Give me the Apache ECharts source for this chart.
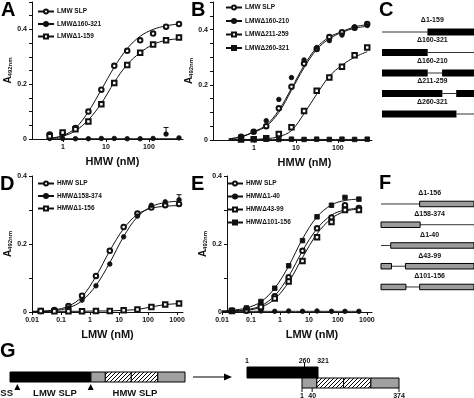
<!DOCTYPE html>
<html>
<head>
<meta charset="utf-8">
<script src="https://cdn.jsdelivr.net/npm/echarts@6/dist/echarts.min.js"></script>
<style>
  html, body { margin: 0; padding: 0; background: #fff; }
  #chart { width: 474px; height: 398px; }
</style>
</head>
<body>
<div id="chart"></div>
<script>
// ---- panel A and B : HMW titration (nM), 2-fold series
const concAB = [0.49, 0.98, 1.95, 3.9, 7.8, 15.6, 31.2, 62.5, 125, 250, 500];
const aNames = ['LMW SLP', 'LMWΔ160-321', 'LMWΔ1-159'];
const aPoints = [
  [0.016, 0.02, 0.04, 0.10, 0.18, 0.267, 0.322, 0.36, 0.385, 0.41, 0.42],
  [0.002, 0.002, 0.001, 0.001, 0.002, 0.002, 0.001, 0.001, 0.002, 0.018, 0.004],
  [0.01, 0.024, 0.036, 0.064, 0.127, 0.204, 0.27, 0.315, 0.345, 0.36, 0.37]
];
const aCurves = [
  [0.003, 0.012, 0.04, 0.1, 0.18, 0.262, 0.33, 0.375, 0.4, 0.413, 0.42],
  [0.001, 0.001, 0.001, 0.001, 0.001, 0.001, 0.001, 0.001, 0.001, 0.001, 0.001],
  [0.002, 0.01, 0.03, 0.07, 0.13, 0.207, 0.272, 0.315, 0.345, 0.36, 0.366]
];
const aErrors = [[250, 0.018, 0.042]];

const curveConcB = [0.25, 0.49, 0.98, 1.95, 3.9, 7.8, 15.6, 31.2, 62.5, 125, 250, 500];
const bNames = ['LMW SLP', 'LMWΔ160-210', 'LMWΔ211-259', 'LMWΔ260-321'];
const bPoints = [
  [0.012, 0.03, 0.05, 0.115, 0.193, 0.277, 0.33, 0.373, 0.39, 0.407, 0.42],
  [0.01, 0.03, 0.07, 0.147, 0.226, 0.29, 0.335, 0.36, 0.38, 0.41, 0.415],
  [0.002, 0.003, 0.006, 0.022, 0.046, 0.105, 0.178, 0.226, 0.265, 0.307, 0.335],
  [0.003, 0.004, 0.003, 0.002, 0.003, 0.002, 0.003, 0.002, 0.003, 0.002, 0.003]
];
const bCurves = [
  [0.004, 0.012, 0.03, 0.054, 0.108, 0.187, 0.27, 0.335, 0.373, 0.393, 0.41, 0.418],
  [0.004, 0.011, 0.028, 0.05, 0.1, 0.18, 0.262, 0.328, 0.367, 0.39, 0.405, 0.412],
  [0, 0.001, 0.002, 0.005, 0.012, 0.034, 0.096, 0.166, 0.231, 0.271, 0.3, 0.32],
  [0.002, 0.002, 0.002, 0.002, 0.002, 0.002, 0.002, 0.002, 0.002, 0.002, 0.002, 0.002]
];

// ---- panel D and E : LMW titration (nM), 3-fold series
const concD = [0.02, 0.059, 0.18, 0.53, 1.6, 4.8, 14.4, 43, 130, 390, 1170];
const curveConcD = [0.01, 0.02, 0.059, 0.18, 0.53, 1.6, 4.8, 14.4, 43, 130, 390, 1170];
const dNames = ['HMW SLP', 'HMWΔ158-374', 'HMWΔ1-156'];
const dPoints = [
  [0.003, 0.006, 0.018, 0.048, 0.106, 0.18, 0.25, 0.29, 0.307, 0.314, 0.318],
  [0.002, 0.004, 0.012, 0.035, 0.077, 0.141, 0.221, 0.282, 0.314, 0.324, 0.33],
  [0.003, 0.002, 0.002, 0.002, 0.003, 0.003, 0.005, 0.007, 0.015, 0.022, 0.025]
];
const dCurves = [
  [0.001, 0.002, 0.006, 0.017, 0.045, 0.105, 0.18, 0.245, 0.287, 0.305, 0.311, 0.313],
  [0.001, 0.001, 0.004, 0.012, 0.033, 0.078, 0.145, 0.222, 0.28, 0.31, 0.322, 0.326],
  [0.002, 0.003, 0.002, 0.002, 0.002, 0.003, 0.003, 0.005, 0.007, 0.015, 0.022, 0.025]
];
const dErrors = [[1170, 0.33, 0.345]];

const concE = [0.022, 0.07, 0.22, 0.66, 2, 6, 19, 60, 175, 530];
const curveConcE = [0.01, 0.022, 0.07, 0.22, 0.66, 2, 6, 19, 60, 175, 530];
const eNames = ['HMW SLP', 'HMWΔ1-40', 'HMWΔ43-99', 'HMWΔ101-156'];
const ePoints = [
  [0.004, 0.006, 0.018, 0.046, 0.102, 0.18, 0.246, 0.278, 0.314, 0.306],
  [0.003, 0.002, 0.003, 0.002, 0.003, 0.002, 0.003, 0.002, 0.002, 0.002],
  [0.003, 0.005, 0.015, 0.04, 0.09, 0.15, 0.22, 0.265, 0.3, 0.3],
  [0.005, 0.012, 0.031, 0.07, 0.136, 0.21, 0.28, 0.314, 0.337, 0.332]
];
const eCurves = [
  [0.002, 0.003, 0.007, 0.018, 0.048, 0.105, 0.18, 0.245, 0.285, 0.3, 0.305],
  [0.002, 0.002, 0.002, 0.002, 0.002, 0.002, 0.002, 0.002, 0.002, 0.002, 0.002],
  [0.001, 0.002, 0.005, 0.014, 0.038, 0.088, 0.16, 0.23, 0.275, 0.296, 0.303],
  [0.003, 0.005, 0.012, 0.03, 0.07, 0.135, 0.215, 0.28, 0.315, 0.328, 0.332]
];

// ---- constructs (C, F) and processing scheme (G)
const lmwLength = 321;
const hmwLength = 374;
const cNames = ['Δ1-159', 'Δ160-321', 'Δ160-210', 'Δ211-259', 'Δ260-321'];
const cDeleted = [[1, 159], [160, 321], [160, 210], [211, 259], [260, 321]];
const fNames = ['Δ1-156', 'Δ158-374', 'Δ1-40', 'Δ43-99', 'Δ101-156'];
const fDeleted = [[1, 156], [158, 374], [1, 40], [43, 99], [101, 156]];
const hmwDomains = [[1, 58, 'plain'], [58, 161, 'hatch'], [161, 266, 'hatch'], [266, 374, 'plain']];
const cleavageSites = [30, 321];
const lmwMarks = [1, 260, 321];
const hmwMarks = [1, 40, 374];

const FONT = '"Liberation Sans", Arial, sans-serif';
const INK = '#111';
const GRAY = '#a0a0a0';

const hatchCanvas = document.createElement('canvas');
hatchCanvas.width = 4; hatchCanvas.height = 4;
(function () {
  const g = hatchCanvas.getContext('2d');
  g.fillStyle = '#fff'; g.fillRect(0, 0, 4, 4);
  g.strokeStyle = '#000'; g.lineWidth = 1;
  g.beginPath();
  g.moveTo(0, 4); g.lineTo(4, 0);
  g.moveTo(-1, 1); g.lineTo(1, -1);
  g.moveTo(3, 5); g.lineTo(5, 3);
  g.stroke();
})();
const HATCH = { image: hatchCanvas, repeat: 'repeat' };

const pairs = (xs, ys) => xs.map((x, i) => [x, ys[i]]);
const logLabel = v => (v >= 1 ? String(Math.round(v)) : String(+v.toPrecision(1)));

function dataXAxis(gi, min, max, ticks, name, shift) {
  return {
    gridIndex: gi, type: 'log', logBase: 10, min: min, max: max,
    name: name, nameLocation: 'middle', nameGap: 17,
    nameTextStyle: { fontFamily: FONT, fontWeight: 'bold', fontSize: 11, color: INK, padding: [0, 0, 0, shift] },
    axisLine: { lineStyle: { color: INK, width: 1 } },
    axisTick: { length: 3, lineStyle: { color: INK }, customValues: ticks },
    axisLabel: { customValues: ticks, formatter: logLabel, fontFamily: FONT, fontWeight: 'bold', fontSize: 7, color: INK, margin: 5 },
    splitLine: { show: false }, minorTick: { show: false }
  };
}

function dataYAxis(gi, max, step, offset) {
  return {
    gridIndex: gi, type: 'value', min: 0, max: max, interval: step, offset: offset,
    name: '{a|A}{b|492nm}', nameLocation: 'middle', nameGap: 16, nameRotate: 90,
    nameTextStyle: { rich: {
      a: { fontFamily: FONT, fontWeight: 'bold', fontSize: 10, color: INK },
      b: { fontFamily: FONT, fontWeight: 'bold', fontSize: 6, color: INK, padding: [5, 0, 0, 0] }
    } },
    axisLine: { show: true, lineStyle: { color: INK, width: 1 } },
    axisTick: { show: true, length: 3, lineStyle: { color: INK } },
    axisLabel: {
      fontFamily: FONT, fontWeight: 'bold', fontSize: 7, color: INK, margin: 5,
      formatter: v => {
        const t = Math.round(v * 100);
        if (t % 20 !== 0) return '';
        return t === 0 ? '0' : (t / 100).toFixed(1);
      }
    },
    splitLine: { show: false }
  };
}

function hiddenAxis(gi, min, max, inverse) {
  return { gridIndex: gi, type: 'value', min: min, max: max, inverse: !!inverse, show: false };
}

function panelSeries(gi, names, symbols, conc, points, curveConc, curves, straight) {
  const out = [];
  names.forEach((n, k) => {
    out.push({
      type: 'line', name: n, xAxisIndex: gi, yAxisIndex: gi,
      data: pairs(curveConc, curves[k]),
      smooth: straight && straight[k] ? false : 0.35,
      showSymbol: false, symbol: symbols[k], symbolSize: 4.5,
      lineStyle: { color: INK, width: 1 }, itemStyle: { color: INK, borderColor: INK, borderWidth: 1 },
      silent: true, z: 2
    });
    out.push({
      type: 'scatter', name: 'pts' + gi + '_' + k, xAxisIndex: gi, yAxisIndex: gi,
      data: pairs(conc, points[k]),
      symbol: symbols[k], symbolSize: 4.5,
      itemStyle: { color: INK, borderColor: INK, borderWidth: 0.9, opacity: 1 },
      z: 3
    });
  });
  return out;
}

function errorSeries(gi, rows) {
  return {
    type: 'custom', xAxisIndex: gi, yAxisIndex: gi, data: rows, z: 4, silent: true,
    renderItem: (params, api) => {
      const base = api.coord([api.value(0), api.value(1)]);
      const top = api.coord([api.value(0), api.value(2)]);
      return { type: 'group', children: [
        { type: 'line', shape: { x1: base[0], y1: base[1], x2: top[0], y2: top[1] }, style: { stroke: INK, lineWidth: 1 } },
        { type: 'line', shape: { x1: top[0] - 2.5, y1: top[1], x2: top[0] + 2.5, y2: top[1] }, style: { stroke: INK, lineWidth: 1 } }
      ] };
    }
  };
}

function constructRows(deleted, length) {
  const rows = [];
  deleted.forEach(([a, b], i) => {
    if (a > 1) rows.push([1, a, i, 1]);
    rows.push([a, b, i, 0]);
    if (b < length) rows.push([b, length, i, 1]);
  });
  return rows;
}

function constructSeries(gi, deleted, length, barH, fill, stroke) {
  return {
    type: 'custom', xAxisIndex: gi, yAxisIndex: gi, data: constructRows(deleted, length), silent: true,
    renderItem: (params, api) => {
      const p0 = api.coord([api.value(0), api.value(2)]);
      const p1 = api.coord([api.value(1), api.value(2)]);
      if (api.value(3)) {
        return { type: 'rect', shape: { x: p0[0], y: p0[1] - barH / 2, width: p1[0] - p0[0], height: barH },
          style: { fill: fill, stroke: stroke || null, lineWidth: stroke ? 1 : 0 }, z2: 2 };
      }
      return { type: 'line', shape: { x1: p0[0], y1: p0[1], x2: p1[0], y2: p1[1] },
        style: { stroke: '#333', lineWidth: 1 }, z2: 1 };
    }
  };
}

function constructLabels(gi, names, atX, lift) {
  return {
    type: 'custom', xAxisIndex: gi, yAxisIndex: gi, silent: true,
    data: names.map((n, i) => [atX, i]),
    renderItem: (params, api) => {
      const p = api.coord([api.value(0), api.value(1)]);
      return { type: 'text', x: p[0], y: p[1] - lift,
        style: { text: names[params.dataIndex], fill: INK, font: 'bold 7px ' + FONT, align: 'center', verticalAlign: 'middle' } };
    }
  };
}

// precursor = LMW followed by HMW
const precursorRows = [[1, lmwLength, 'lmw']].concat(hmwDomains.map(d => [lmwLength + d[0], lmwLength + d[1], d[2]]));
const fillOf = k => (k === 'lmw' ? '#000' : k === 'hatch' ? HATCH : GRAY);

function domainSeries(gi, rows, barH) {
  return {
    type: 'custom', xAxisIndex: gi, yAxisIndex: gi, silent: true,
    data: rows.map(r => [r[0], r[1], 0]),
    renderItem: (params, api) => {
      const p0 = api.coord([api.value(0), 0]);
      const p1 = api.coord([api.value(1), 0]);
      return { type: 'rect', shape: { x: p0[0], y: p0[1] - barH / 2, width: p1[0] - p0[0], height: barH },
        style: { fill: fillOf(rows[params.dataIndex][2]), stroke: '#000', lineWidth: 1 } };
    }
  };
}

function markSeries(gi, marks, side, barH, tick, gap, lastShift) {
  return {
    type: 'custom', xAxisIndex: gi, yAxisIndex: gi, silent: true,
    data: marks.map(m => [m, 0]),
    renderItem: (params, api) => {
      const p = api.coord([api.value(0), 0]);
      const edge = p[1] + side * barH / 2;
      const dx = params.dataIndex === marks.length - 1 ? lastShift : 0;
      const children = [{ type: 'text', x: p[0] + dx, y: edge + side * (tick + gap),
        style: { text: String(marks[params.dataIndex]), fill: INK, font: 'bold 7px ' + FONT, align: 'center', verticalAlign: 'middle' } }];
      if (tick) children.push({ type: 'line', shape: { x1: p[0], y1: edge, x2: p[0], y2: edge + side * tick }, style: { stroke: INK, lineWidth: 1 } });
      return { type: 'group', children: children };
    }
  };
}

const symA = ['emptyCircle', 'circle', 'emptyRect'];
const symB = ['emptyCircle', 'circle', 'emptyRect', 'rect'];

function legendAt(names, left, top, gap) {
  return {
    data: names, left: left, top: top, orient: 'vertical', padding: 0,
    itemWidth: 16, itemHeight: 5, itemGap: gap, selectedMode: false,
    textStyle: { fontFamily: FONT, fontWeight: 'bold', fontSize: 6.5, color: INK, padding: [0, 0, 0, -2] }
  };
}

function letter(t, x, y) {
  return { type: 'text', x: x, y: y, style: { text: t, fill: '#000', font: 'bold 20px ' + FONT, verticalAlign: 'middle' } };
}
function note(t, x, y, align, size) {
  return { type: 'text', x: x, y: y, style: { text: t, fill: INK, font: 'bold ' + size + 'px ' + FONT, align: align, verticalAlign: 'middle' } };
}

const option = {
  animation: false,
  backgroundColor: '#fff',
  grid: [
    { left: 32, top: 2, width: 151, height: 137 },
    { left: 213, top: 2, width: 159, height: 138 },
    { left: 32, top: 176, width: 151, height: 136 },
    { left: 222, top: 176, width: 150, height: 136 },
    { left: 382, top: 21.75, width: 92, height: 102.5 },
    { left: 381, top: 193.6, width: 93, height: 103.75 },
    { left: 10, top: 367, width: 175, height: 20 },
    { left: 247, top: 362.5, width: 71, height: 20 },
    { left: 302, top: 373, width: 97, height: 20 }
  ],
  xAxis: [
    dataXAxis(0, 0.19, 620, [1, 10, 100], 'HMW (nM)', 10),
    dataXAxis(1, 0.105, 650, [1, 10, 100], 'HMW (nM)', 24),
    dataXAxis(2, 0.01, 1600, [0.01, 0.1, 1, 10, 100, 1000], 'LMW (nM)', 0),
    dataXAxis(3, 0.01, 1500, [0.01, 0.1, 1, 10, 100, 1000], 'LMW (nM)', 30),
    hiddenAxis(4, 1, lmwLength),
    hiddenAxis(5, 1, hmwLength),
    hiddenAxis(6, 1, lmwLength + hmwLength),
    hiddenAxis(7, 1, lmwLength),
    hiddenAxis(8, 1, hmwLength)
  ],
  yAxis: [
    dataYAxis(0, 0.5, 0.05, 0),
    dataYAxis(1, 0.5, 0.05, 0),
    dataYAxis(2, 0.4, 0.1, 0),
    dataYAxis(3, 0.4, 0.1, -5),
    hiddenAxis(4, -0.5, 4.5, true),
    hiddenAxis(5, -0.5, 4.5, true),
    hiddenAxis(6, -1, 1),
    hiddenAxis(7, -1, 1),
    hiddenAxis(8, -1, 1)
  ],
  legend: [
    legendAt(aNames, 37, 8, 5.5),
    legendAt(bNames, 225, 4, 6.5),
    legendAt(dNames, 37, 180, 5.5),
    legendAt(eNames, 226, 180, 6)
  ],
  series: [].concat(
    panelSeries(0, aNames, symA, concAB, aPoints, concAB, aCurves),
    [errorSeries(0, aErrors)],
    panelSeries(1, bNames, symB, concAB, bPoints, curveConcB, bCurves),
    panelSeries(2, dNames, symA, concD, dPoints, curveConcD, dCurves, [false, false, true]),
    [errorSeries(2, dErrors)],
    panelSeries(3, eNames, symB, concE, ePoints, curveConcE, eCurves),
    [constructSeries(4, cDeleted, lmwLength, 7, '#000', null), constructLabels(4, cNames, 176, 12)],
    [constructSeries(5, fDeleted, hmwLength, 5.5, '#9c9c9c', '#000'), constructLabels(5, fNames, 196, 10.5)],
    [domainSeries(6, precursorRows, 10),
     {
       type: 'custom', xAxisIndex: 6, yAxisIndex: 6, silent: true,
       data: cleavageSites.map(s => [s, 0]),
       renderItem: (params, api) => {
         const p = api.coord([api.value(0), 0]);
         return { type: 'polygon', shape: { points: [[p[0], p[1] + 7], [p[0] - 3, p[1] + 13], [p[0] + 3, p[1] + 13]] }, style: { fill: '#000' } };
       }
     },
     domainSeries(7, [[1, lmwLength, 'lmw']], 11),
     markSeries(7, lmwMarks, -1, 11, 0, 6, 5),
     domainSeries(8, hmwDomains, 10),
     markSeries(8, hmwMarks, 1, 10, 4, 4, 0)]
  ),
  graphic: [
    letter('A', 1, 10), letter('B', 191, 10), letter('C', 379, 10),
    letter('D', 0, 184), letter('E', 191, 184), letter('F', 379, 183),
    letter('G', 0, 351),
    note('SS', 13, 393, 'right', 9.5),
    note('LMW SLP', 55, 393, 'center', 9.5),
    note('HMW SLP', 135, 393, 'center', 9.5),
    { type: 'line', shape: { x1: 193, y1: 377, x2: 226, y2: 377 }, style: { stroke: '#000', lineWidth: 1.2 } },
    { type: 'polygon', shape: { points: [[232, 377], [224, 373.5], [224, 380.5]] }, style: { fill: '#000' } },
    { type: 'line', shape: { x1: 304.5, y1: 363, x2: 304.5, y2: 367 }, style: { stroke: '#000', lineWidth: 1 } }
  ]
};

const chart = echarts.init(document.getElementById('chart'), null, { renderer: 'canvas' });
chart.setOption(option);
</script>
</body>
</html>
